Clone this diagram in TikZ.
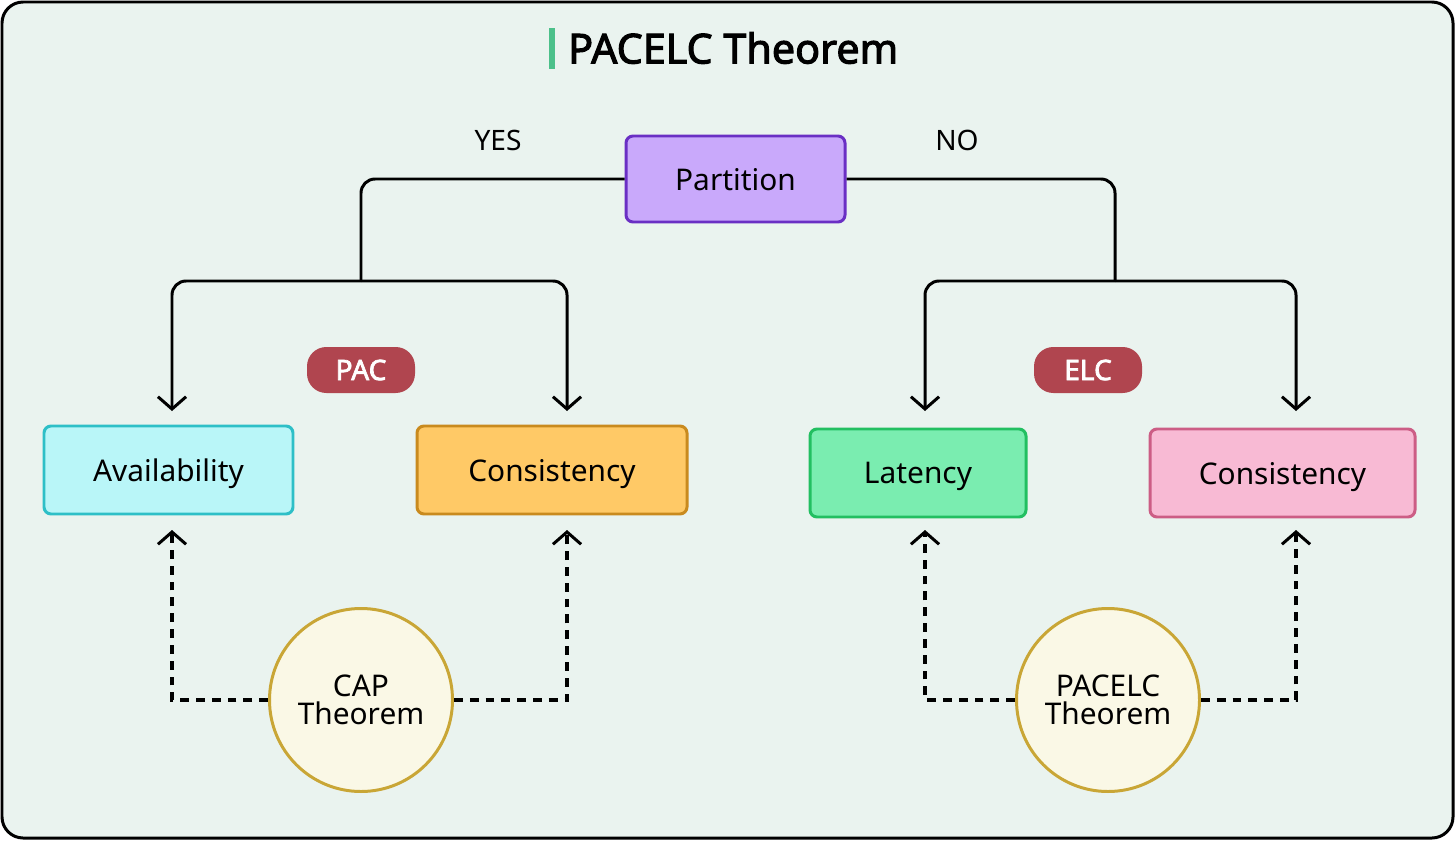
\documentclass[tikz,border=0pt]{standalone}
\usepackage{fontspec}
\setmainfont{Noto Sans}[BoldFont=Noto Sans,BoldFeatures={FakeBold=2.5}]
\usetikzlibrary{arrows.meta}
\definecolor{bg}{HTML}{EAF3EF}
\definecolor{bar}{HTML}{4CC08A}
\definecolor{pf}{HTML}{C9A9FB}\definecolor{pd}{HTML}{6A2FC4}
\definecolor{af}{HTML}{B9F6F8}\definecolor{ad}{HTML}{2EBFC7}
\definecolor{of}{HTML}{FFC966}\definecolor{od}{HTML}{C98A1E}
\definecolor{lf}{HTML}{7AEDB0}\definecolor{ld}{HTML}{22BF61}
\definecolor{kf}{HTML}{F8BAD4}\definecolor{kd}{HTML}{CC5D85}
\definecolor{pillred}{HTML}{B0454F}
\definecolor{cf}{HTML}{FAF8E6}\definecolor{cd}{HTML}{C9A636}
\begin{document}
\begin{tikzpicture}[x=0.02cm,y=-0.02cm,
  box/.style={draw,line width=1.7pt,rounded corners=4pt,font=\fontsize{17}{20}\selectfont,inner sep=0pt,text depth=0pt},
  pill/.style={fill=pillred,rounded corners=11pt,minimum width=108*0.02cm,minimum height=46*0.02cm,text=white,font=\fontsize{16}{19}\selectfont\bfseries},
  circ/.style={circle,draw=cd,fill=cf,line width=1.7pt,minimum size=183*0.02cm,align=center,inner sep=0pt,font=\fontsize{17}{16}\selectfont},
  conn/.style={line width=1.7pt,rounded corners=8pt},
  arr/.style={-{Straight Barb[length=7pt,width=16pt,line width=1.7pt]}},
  dashed line/.style={line width=1.9pt,dash pattern=on 5pt off 4pt}]
\useasboundingbox (0,0) rectangle (1456,841);
\draw[fill=bg,line width=1.7pt,rounded corners=12pt] (2,2) rectangle (1453,838);
\fill[bar] (549,28) rectangle (555,69);
\node[anchor=west,font=\fontsize{23.5}{26}\selectfont\bfseries] (title) at (562,48) {PACELC Theorem};
\node[box,fill=pf,draw=pd,minimum width=219*0.02cm,minimum height=86*0.02cm] (part) at (735.5,179) {Partition};
\node[font=\fontsize{16}{19}\selectfont] (yes) at (498,140) {YES};
\node[font=\fontsize{16}{19}\selectfont] (no) at (957,140) {NO};
\node[box,fill=af,draw=ad,minimum width=249*0.02cm,minimum height=88*0.02cm] (av) at (168.5,470) {Availability};
\node[box,fill=of,draw=od,minimum width=270*0.02cm,minimum height=88*0.02cm] (c1) at (552,470) {Consistency};
\node[box,fill=lf,draw=ld,minimum width=216*0.02cm,minimum height=88*0.02cm] (lat) at (918,473) {Latency};
\node[box,fill=kf,draw=kd,minimum width=265*0.02cm,minimum height=88*0.02cm] (c2) at (1282.5,473) {Consistency};
\node[pill] (pac) at (361,370) {PAC};
\node[pill] (elc) at (1088,370) {ELC};
\node[circ] (cap) at (361,700) {CAP\\Theorem};
\node[circ] (pacelc) at (1108,700) {PACELC\\Theorem};
\coordinate (lj) at (361,281);
\coordinate (rj) at (1115,281);
\draw[conn] (part.west) -| (lj);
\draw[conn] (part.east) -| (rj);
\draw[conn,arr] (lj) -| (172,411);
\draw[conn,arr] (lj) -| (567,411);
\draw[conn,arr] (rj) -| (925,411);
\draw[conn,arr] (rj) -| (1296,411);
\draw[dashed line,arr] (cap.west) -| (172,530);
\draw[dashed line,arr] (cap.east) -| (567,530);
\draw[dashed line,arr] (pacelc.west) -| (925,530);
\draw[dashed line,arr] (pacelc.east) -| (1296,530);
\end{tikzpicture}
\end{document}
